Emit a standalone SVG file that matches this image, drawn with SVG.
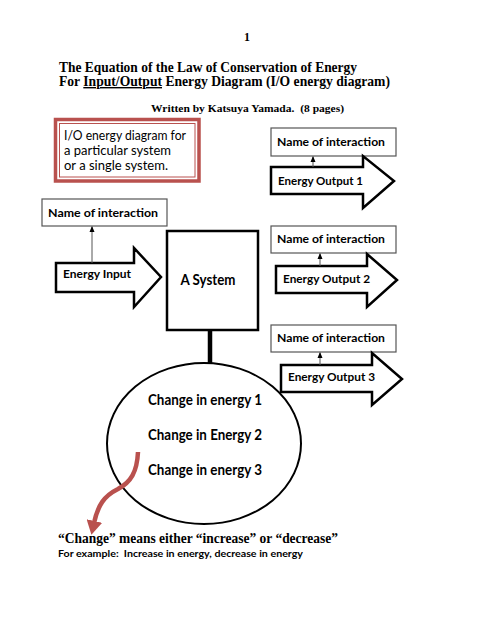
<svg xmlns="http://www.w3.org/2000/svg" width="495" height="640" viewBox="0 0 495 640">
<defs>
<style>
.ser{font-family:"Liberation Serif","DejaVu Serif",serif;font-weight:bold;fill:#000}
.sans{font-family:Lato,"Liberation Sans",sans-serif;fill:#000}
.b{font-weight:bold}
.pre{white-space:pre}
.namebox{fill:#fff;stroke:#555;stroke-width:1.2}
.arrow{fill:#fff;stroke:#000;stroke-width:2.5;stroke-linejoin:miter}
.stem{stroke:#555;stroke-width:1;fill:none}
</style>
<marker id="sm" markerUnits="userSpaceOnUse" markerWidth="6" markerHeight="6" viewBox="0 0 6 6" refX="5" refY="3" orient="auto">
<path d="M0,0.5 L6,3 L0,5.5 z" fill="#000"/>
</marker>
<marker id="red" markerUnits="userSpaceOnUse" markerWidth="16" markerHeight="16" viewBox="0 0 16 16" refX="2" refY="8" orient="auto">
<path d="M0,0 L14,8 L0,16 z" fill="#b9514e"/>
</marker>
</defs>
<rect width="495" height="640" fill="#fff"/>

<text class="ser" x="247" y="41" font-size="12" text-anchor="middle">1</text>
<text class="ser" x="59" y="72" font-size="14" textLength="298" lengthAdjust="spacingAndGlyphs">The Equation of the Law of Conservation of Energy</text>
<text class="ser" x="59" y="86" font-size="14" textLength="331" lengthAdjust="spacingAndGlyphs">For <tspan text-decoration="underline">Input/Output</tspan> Energy Diagram (I/O energy diagram)</text>
<text class="ser pre" x="151" y="112" font-size="11" textLength="193" lengthAdjust="spacingAndGlyphs">Written by Katsuya Yamada.  (8 pages)</text>

<g id="note">
<rect x="55.5" y="119.5" width="143.5" height="61.5" fill="#fff" stroke="#b9514e" stroke-width="3.5"/>
<rect x="59.5" y="123.5" width="135.5" height="53.5" fill="none" stroke="#b9514e" stroke-width="1"/>
<text class="sans" x="64" y="140" font-size="13" textLength="122" lengthAdjust="spacingAndGlyphs">I/O energy diagram for</text>
<text class="sans" x="64" y="155" font-size="13">a particular system</text>
<text class="sans" x="64" y="170" font-size="13">or a single system.</text>
</g>

<g id="name-input">
<rect class="namebox" x="42" y="199" width="125" height="27"/>
<text class="sans b" x="48" y="217" font-size="12" textLength="110" lengthAdjust="spacingAndGlyphs">Name of interaction</text>
</g>
<g id="energy-input">
<polygon class="arrow" points="56,263 134,263 134,248 161,277 134,307 134,292 56,292"/>
<text class="sans b" x="63" y="278" font-size="12" textLength="68" lengthAdjust="spacingAndGlyphs">Energy Input</text>
</g>

<g id="system">
<rect x="167" y="231" width="91" height="99" fill="#fff" stroke="#000" stroke-width="2.5"/>
<text class="sans b" x="208" y="285" font-size="15" text-anchor="middle" textLength="55" lengthAdjust="spacingAndGlyphs">A System</text>
</g>

<g id="name-out1">
<rect class="namebox" x="271" y="128" width="125" height="28"/>
<text class="sans b" x="277" y="146" font-size="12" textLength="108" lengthAdjust="spacingAndGlyphs">Name of interaction</text>
</g>
<g id="energy-output-1">
<polygon class="arrow" points="271,167 363,167 363,156 394,181 363,208 363,194 271,194"/>
<text class="sans b" x="278" y="185" font-size="12" textLength="85" lengthAdjust="spacingAndGlyphs">Energy Output 1</text>
</g>

<g id="name-out2">
<rect class="namebox" x="271" y="226" width="125" height="27"/>
<text class="sans b" x="277" y="243" font-size="12" textLength="108" lengthAdjust="spacingAndGlyphs">Name of interaction</text>
</g>
<g id="energy-output-2">
<polygon class="arrow" points="276,266 367,266 367,254 397,280 367,307 367,293 276,293"/>
<text class="sans b" x="283" y="283" font-size="12" textLength="87" lengthAdjust="spacingAndGlyphs">Energy Output 2</text>
</g>

<g id="name-out3">
<rect class="namebox" x="271" y="325" width="125" height="27"/>
<text class="sans b" x="277" y="342" font-size="12" textLength="108" lengthAdjust="spacingAndGlyphs">Name of interaction</text>
</g>
<g id="energy-output-3">
<polygon class="arrow" points="281,365 372,365 372,353 402,379 372,405 372,392 281,392"/>
<text class="sans b" x="288" y="381" font-size="12" textLength="87" lengthAdjust="spacingAndGlyphs">Energy Output 3</text>
</g>

<g id="changes">
<ellipse cx="204" cy="443.5" rx="97" ry="80.5" fill="none" stroke="#000" stroke-width="2"/>
<text class="sans b" x="148" y="405" font-size="14.5" textLength="114" lengthAdjust="spacingAndGlyphs">Change in energy 1</text>
<text class="sans b" x="148" y="440" font-size="14.5" textLength="114" lengthAdjust="spacingAndGlyphs">Change in Energy 2</text>
<text class="sans b" x="148" y="475" font-size="14.5" textLength="114" lengthAdjust="spacingAndGlyphs">Change in energy 3</text>
</g>

<g id="connectors">
<line class="stem" x1="92" y1="263" x2="92" y2="227" marker-end="url(#sm)"/>
<line class="stem" x1="313" y1="167" x2="313" y2="157" marker-end="url(#sm)"/>
<line class="stem" x1="320" y1="266" x2="320" y2="254" marker-end="url(#sm)"/>
<line class="stem" x1="320" y1="365" x2="320" y2="353" marker-end="url(#sm)"/>
<line x1="210" y1="331" x2="210" y2="363" stroke="#000" stroke-width="4.5"/>
<path d="M138,452 C137,472 131,482 118,489 C104,496 98,505 94,523" fill="none" stroke="#b9514e" stroke-width="4.5" marker-end="url(#red)"/>
</g>

<text class="ser" x="58" y="543" font-size="14" textLength="280" lengthAdjust="spacingAndGlyphs">“Change” means either “increase” or “decrease”</text>
<text class="sans b pre" x="58" y="557" font-size="10" textLength="245" lengthAdjust="spacingAndGlyphs">For example:  Increase in energy, decrease in energy</text>
</svg>
